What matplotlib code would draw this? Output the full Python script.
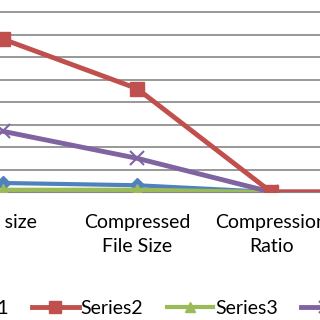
import matplotlib
matplotlib.use("Agg")
import matplotlib.pyplot as plt

categories = ["File size", "Compressed\nFile Size", "Compression\nRatio", "Time"]
series1 = [4, 3, 0, 0]
series2 = [68, 46, 0, 0]
series3 = [1, 1, 0, 0]
series4 = [27, 15, 0, 0]
grid_ticks = [0, 10, 20, 30, 40, 50, 60, 70, 80, 90, 100]

plt.rcParams['font.family'] = ['Lato', 'DejaVu Sans']

fig = plt.figure(figsize=(3.2, 3.2), dpi=100)
# axes deliberately larger than the canvas: the picture is a crop
ax = fig.add_axes([-64.5 / 320, 1 - 192 / 320, 537 / 320, 225 / 320])

x = range(len(categories))
ax.plot(x, series1, color='#4F81BD', lw=3, marker='D', ms=7, label='Series1', zorder=3)
ax.plot(x, series2, color='#C0504D', lw=3.5, marker='s', ms=10, label='Series2', zorder=4)
ax.plot(x, series3, color='#9BBB59', lw=3, marker='^', ms=9, label='Series3', zorder=3)
ax.plot(x, series4, color='#8064A2', lw=3.5, marker='x', ms=10, mew=1.5, label='Series4', zorder=3)

ax.set_xlim(-0.5, 3.5)
ax.set_ylim(0, 100)
ax.set_yticks(grid_ticks)
ax.set_yticklabels([])
ax.set_xticks(list(x))
ax.set_xticklabels(categories, fontsize=14, linespacing=1.45)
ax.tick_params(axis='x', length=0, pad=16)
ax.tick_params(axis='y', length=0)
ax.grid(axis='y', color='#868686', lw=1.2)
ax.set_axisbelow(True)
for s in ['top', 'right', 'left']:
    ax.spines[s].set_visible(False)
ax.spines['bottom'].set_color('#868686')

fig.legend(loc='center', bbox_to_anchor=(155 / 320, 12 / 320), ncol=4, frameon=False,
           fontsize=14, handlelength=2.4, handletextpad=0.1, columnspacing=1.2,
           markerscale=0.8)

fig.savefig('out.png', dpi=100)
